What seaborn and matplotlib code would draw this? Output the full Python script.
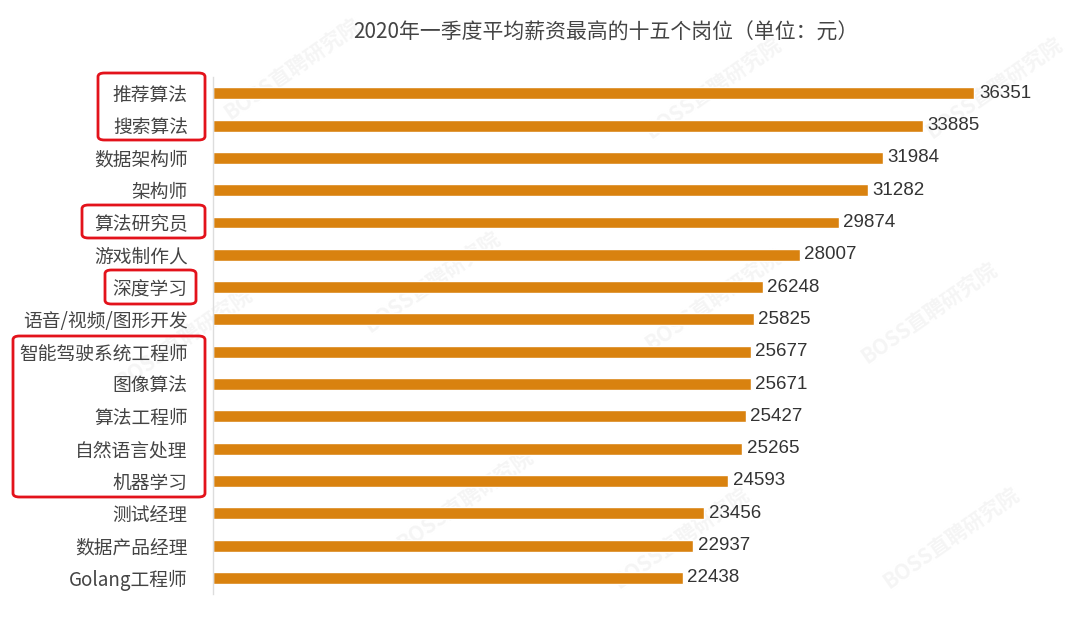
import matplotlib
matplotlib.use('Agg')
import matplotlib.pyplot as plt
from matplotlib.patches import FancyBboxPatch
import seaborn as sns
import pandas as pd

jobs = ['推荐算法', '搜索算法', '数据架构师', '架构师', '算法研究员', '游戏制作人',
        '深度学习', '语音/视频/图形开发', '智能驾驶系统工程师', '图像算法', '算法工程师',
        '自然语言处理', '机器学习', '测试经理', '数据产品经理', 'Golang工程师']
salary = [36351, 33885, 31984, 31282, 29874, 28007, 26248, 25825, 25677, 25671,
          25427, 25265, 24593, 23456, 22937, 22438]
title = '2020年一季度平均薪资最高的十五个岗位（单位：元）'

sns.set_style('white')
plt.rcParams['font.family'] = ['Noto Sans CJK SC', 'DejaVu Sans']

df = pd.DataFrame({'job': jobs, 'salary': salary})

fig = plt.figure(figsize=(10.8, 6.25), dpi=100)
ax = fig.add_axes([0.197, 0.0496, 0.776, 0.827])
ax.patch.set_alpha(0)
ax.set_zorder(2)

sns.barplot(data=df, y='job', x='salary', color='#D9820F', saturation=1,
            width=0.37, ax=ax, orient='h')

for i, v in enumerate(salary):
  ax.text(v + 220, i, str(v), va='center', ha='left', fontsize=13.5,
          color='#333333', family=['Liberation Sans', 'DejaVu Sans'])

ax.set_xlim(0, 40000)
ax.set_ylim(15.5, -0.5)
ax.set_xlabel('')
ax.set_ylabel('')
ax.set_xticks([])
ax.tick_params(axis='y', length=0, labelsize=13.5, labelcolor='#444444', pad=18)
for s in ['top', 'right', 'bottom']:
  ax.spines[s].set_visible(False)
ax.spines['left'].set_color('#dddddd')
ax.spines['left'].set_linewidth(1)

fig.text(0.561, 0.947, title, ha='center', va='center', fontsize=15, color='#444444')

# faint watermarks
marks = [(0.27, 0.89), (0.66, 0.86), (0.92, 0.86), (0.40, 0.55), (0.66, 0.52),
         (0.86, 0.5), (0.17, 0.46), (0.43, 0.2), (0.63, 0.14), (0.88, 0.14)]
for mx, my in marks:
  fig.text(mx, my, 'BOSS直聘研究院', rotation=35, ha='center', va='center',
           fontsize=15, color='#f5f5f5', fontweight='bold', zorder=0)

# red highlight boxes (pixel coords in a 1080x625 canvas)
boxes = [(98, 73, 205, 140), (82, 205, 205, 238), (105, 270, 196, 304),
         (13, 336, 205, 497)]
for x0, y0, x1, y1 in boxes:
  p = FancyBboxPatch((x0 / 1080, 1 - y1 / 625), (x1 - x0) / 1080, (y1 - y0) / 625,
                     boxstyle='round,pad=0,rounding_size=0.006',
                     transform=fig.transFigure, fill=False,
                     edgecolor='#E3121B', linewidth=2, zorder=5)
  fig.patches.append(p)

fig.savefig('out.png', dpi=100)
